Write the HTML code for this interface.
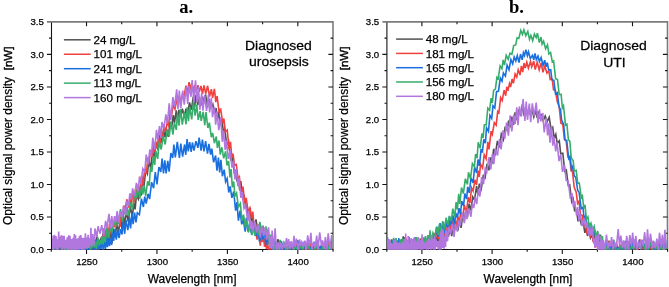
<!DOCTYPE html>
<html><head><meta charset="utf-8"><style>
html,body{margin:0;padding:0;background:#fff;}
svg{display:block;will-change:transform;}
text{font-family:"Liberation Sans",sans-serif;fill:#000;stroke:#000;stroke-width:0.25px;}
.tl{font-size:9.6px;}
.lg{font-size:11.6px;}
.an{font-size:13.3px;}
.at{font-size:11.9px;}
.ti{font-family:"Liberation Serif",serif;font-weight:bold;font-size:18.6px;fill:#000;stroke:none;}
</style></head><body>
<svg width="669" height="287" viewBox="0 0 669 287">
<rect width="669" height="287" fill="#fff"/>
<path d="M47.0,21.9H333.0V249.5" stroke="#7c7c7c" stroke-width="1.6" fill="none"/>
<path d="M51.5,22.5V249.5M46.9,249.5H333.5" stroke="#151515" stroke-width="1.1" fill="none"/>
<path d="M49.1,233.24H51.5M333.0,233.24H330.6M46.9,216.99H51.5M333.0,216.99H328.4M49.1,200.73H51.5M333.0,200.73H330.6M46.9,184.47H51.5M333.0,184.47H328.4M49.1,168.21H51.5M333.0,168.21H330.6M46.9,151.95H51.5M333.0,151.95H328.4M49.1,135.70H51.5M333.0,135.70H330.6M46.9,119.44H51.5M333.0,119.44H328.4M49.1,103.18H51.5M333.0,103.18H330.6M46.9,86.93H51.5M333.0,86.93H328.4M49.1,70.67H51.5M333.0,70.67H330.6M46.9,54.41H51.5M333.0,54.41H328.4M49.1,38.15H51.5M333.0,38.15H330.6M51.30,249.5V251.8M86.52,249.5V253.9M86.52,21.9V26.299999999999997M121.73,249.5V251.8M121.73,21.9V24.2M156.95,249.5V253.9M156.95,21.9V26.299999999999997M192.17,249.5V251.8M192.17,21.9V24.2M227.39,249.5V253.9M227.39,21.9V26.299999999999997M262.61,249.5V251.8M262.61,21.9V24.2M297.82,249.5V253.9M297.82,21.9V26.299999999999997M333.04,249.5V251.8" stroke="#151515" stroke-width="1.1" fill="none"/>
<clipPath id="clip0"><rect x="52.0" y="22.7" width="280.2" height="227.1"/></clipPath>
<g clip-path="url(#clip0)" fill="none" stroke-width="1.6" stroke-linejoin="miter">
<path d="M52.0,240.1 L52.8,248.6 L53.9,243.4 L54.9,249.7 L56.0,241.8 L57.2,250.3 L58.4,239.4 L59.6,250.3 L60.7,243.7 L61.8,250.2 L62.8,241.6 L63.8,250.3 L64.7,244.4 L65.5,250.3 L66.3,245.0 L67.5,249.0 L68.5,242.0 L69.7,249.0 L71.0,245.3 L72.1,250.3 L73.1,245.2 L74.3,250.3 L75.5,242.9 L76.8,250.0 L77.9,243.4 L78.8,248.0 L80.0,244.9 L81.1,250.3 L82.0,239.9 L83.1,250.3 L84.2,239.8 L85.3,250.3 L86.4,241.9 L87.3,250.3 L88.1,239.1 L89.2,250.3 L90.3,244.5 L91.6,248.1 L92.4,234.0 L93.2,247.7 L94.5,244.9 L95.6,250.0 L96.7,233.9 L97.5,246.8 L98.6,240.8 L99.7,246.3 L101.0,237.6 L102.0,245.3 L103.1,232.5 L104.2,242.6 L105.1,230.6 L106.1,240.5 L107.5,227.3 L109.2,240.8 L110.6,230.1 L111.9,243.5 L113.5,228.6 L115.4,237.4 L116.6,223.6 L118.6,231.8 L120.5,217.2 L122.0,228.9 L123.2,212.0 L124.4,226.0 L126.3,212.0 L128.3,221.8 L130.3,206.3 L132.3,216.7 L133.9,203.2 L135.1,209.4 L136.4,195.7 L138.4,199.2 L139.5,186.8 L141.2,195.7 L142.8,176.7 L144.0,186.0 L145.8,170.0 L147.4,173.8 L148.9,160.3 L150.7,168.4 L152.6,151.1 L154.1,159.1 L156.2,142.2 L158.1,150.4 L159.6,136.6 L161.7,141.4 L163.6,129.6 L165.0,137.4 L166.4,128.7 L168.3,136.8 L170.0,121.8 L171.5,128.3 L173.3,115.2 L174.5,122.8 L176.3,110.3 L177.5,121.2 L178.9,109.9 L180.4,116.2 L182.4,108.7 L184.3,117.0 L186.0,108.6 L187.5,115.1 L189.5,102.4 L191.4,109.7 L193.3,96.5 L194.7,107.0 L195.9,95.1 L197.8,105.2 L199.4,96.8 L200.8,105.5 L202.7,96.7 L203.8,103.4 L205.6,94.4 L207.4,107.5 L208.8,98.9 L210.7,107.7 L212.8,104.2 L214.7,113.3 L216.1,108.2 L217.3,120.3 L218.5,111.8 L220.3,123.1 L221.9,119.1 L223.3,131.3 L224.7,129.1 L226.8,144.9 L228.6,141.5 L230.6,159.5 L232.4,157.5 L234.4,173.9 L235.6,169.9 L236.9,181.5 L238.4,177.1 L239.7,190.5 L240.8,181.0 L242.9,198.6 L244.2,196.4 L245.8,208.2 L247.1,204.5 L248.5,218.3 L250.2,207.7 L251.5,223.3 L252.6,216.7 L254.3,227.7 L256.0,219.3 L258.0,232.7 L259.3,223.9 L261.1,233.4 L263.1,226.7 L264.6,237.1 L265.8,232.8 L266.6,243.6 L267.5,233.6 L268.4,244.1 L269.2,237.8 L270.4,247.9 L271.3,237.2 L272.5,248.9 L274.0,246.5 L275.8,250.3 L278.0,239.1 L279.4,249.4 L280.8,247.3 L282.1,250.3 L284.1,243.0 L285.6,250.3 L287.2,246.4 L289.1,250.3 L290.5,244.2 L292.5,248.6 L294.6,241.6 L296.0,250.0 L297.3,240.1 L299.2,250.3 L300.4,243.2 L302.0,250.3 L303.8,246.5 L305.2,250.3 L307.3,244.6 L309.0,250.3 L310.3,244.7 L311.7,249.0 L313.4,246.9 L314.8,250.3 L317.0,246.0 L319.0,250.3 L321.0,248.7 L322.6,249.1 L324.1,248.9 L326.1,250.3 L327.5,244.7 L329.4,250.3 L330.8,245.9 L332.8,250.3" stroke="#515151"/>
<path d="M52.0,241.0 L52.9,248.0 L53.8,243.5 L54.6,248.6 L55.5,241.8 L56.5,248.4 L57.3,243.2 L58.4,250.3 L59.5,239.1 L60.4,249.8 L61.3,235.9 L62.3,250.3 L63.4,241.6 L64.2,248.5 L65.3,241.2 L66.6,250.3 L67.8,240.3 L68.9,249.1 L69.8,239.3 L71.1,250.3 L72.2,243.0 L73.1,250.3 L74.4,239.7 L75.3,250.3 L76.2,241.3 L77.2,250.2 L78.2,242.5 L79.2,249.4 L80.1,242.9 L81.4,249.2 L82.6,239.0 L83.5,250.3 L84.5,238.4 L85.7,250.3 L86.6,238.9 L87.4,247.4 L88.5,240.4 L89.7,248.5 L90.9,244.2 L91.8,249.3 L92.8,241.8 L93.8,250.1 L94.8,239.0 L96.0,250.3 L97.1,240.9 L98.4,249.5 L99.6,240.5 L100.8,244.7 L102.0,236.1 L103.0,241.5 L104.1,228.1 L105.1,240.5 L106.4,227.6 L108.3,237.9 L109.5,223.7 L111.4,234.7 L112.8,220.7 L114.3,227.5 L115.5,219.1 L116.8,226.4 L118.5,216.1 L120.2,226.7 L121.4,211.8 L122.6,218.0 L123.8,205.7 L125.0,210.8 L126.8,199.3 L128.7,207.6 L130.1,197.6 L131.2,206.4 L132.9,191.2 L134.1,202.6 L135.8,187.6 L136.9,198.6 L138.3,184.1 L139.9,193.9 L141.6,175.6 L143.0,185.4 L144.6,169.3 L146.4,173.8 L147.8,157.6 L149.0,164.0 L150.5,151.0 L152.2,156.6 L153.4,144.6 L154.6,151.8 L155.8,141.5 L157.3,148.6 L158.4,136.7 L159.8,146.3 L161.1,133.0 L162.6,137.7 L164.1,125.2 L165.8,132.4 L167.2,121.9 L168.5,125.2 L170.3,112.2 L171.7,114.5 L173.4,104.4 L175.0,109.0 L176.7,99.5 L178.2,106.8 L179.3,95.7 L180.9,103.0 L182.4,94.1 L184.0,96.1 L186.0,85.7 L187.5,92.3 L189.1,82.1 L190.2,90.1 L191.8,82.9 L193.6,91.9 L194.7,84.9 L196.2,91.5 L197.9,85.2 L199.3,91.7 L201.0,86.0 L202.5,93.8 L204.0,85.5 L205.7,93.7 L207.6,85.8 L209.6,96.5 L211.4,89.2 L212.6,97.8 L214.4,88.9 L215.8,102.2 L217.1,96.0 L219.2,113.2 L220.6,108.4 L222.7,123.2 L223.9,118.5 L225.3,132.0 L227.2,130.0 L229.1,149.0 L230.5,141.8 L231.8,157.3 L233.0,153.5 L234.6,165.3 L236.3,164.4 L238.1,179.1 L239.4,176.9 L241.1,194.2 L243.0,186.7 L244.7,203.2 L246.2,197.8 L248.2,212.4 L249.9,208.2 L251.4,218.0 L252.8,211.6 L254.3,229.8 L255.5,223.7 L257.0,239.6 L258.3,230.7 L260.3,245.6 L261.4,234.3 L262.5,242.0 L263.7,238.0 L264.5,246.8 L265.5,238.3 L266.4,249.3 L267.6,244.2 L268.9,250.3 L269.8,247.1 L270.7,250.3 L272.0,248.0 L273.1,250.3 L274.9,247.4 L276.7,249.9 L278.4,242.4 L280.0,249.2 L281.9,248.6 L283.9,250.3 L285.2,248.2 L286.7,250.3 L288.2,247.4 L290.2,250.3 L292.3,247.0 L294.2,250.3 L296.2,242.8 L298.1,250.3 L300.1,245.8 L302.0,249.0 L303.3,249.3 L305.3,248.4 L307.4,245.0 L309.4,250.3 L310.7,243.4 L312.4,249.1 L313.8,244.7 L316.0,250.3 L317.6,243.2 L319.8,250.3 L321.7,245.2 L323.3,250.3 L325.0,243.5 L326.6,250.3 L328.4,240.6 L330.2,250.3 L332.3,247.7" stroke="#F14040"/>
<path d="M52.0,242.8 L53.1,248.6 L53.9,243.9 L55.2,249.0 L56.4,243.6 L57.3,250.3 L58.5,245.4 L59.5,250.3 L60.5,237.8 L61.6,250.3 L62.8,240.4 L63.7,250.3 L64.6,242.5 L65.8,249.5 L66.7,242.1 L67.6,249.6 L68.7,242.6 L69.6,248.3 L70.9,240.1 L72.0,250.3 L73.0,240.4 L74.2,250.3 L75.0,235.8 L76.3,250.3 L77.3,239.1 L78.4,250.3 L79.4,243.8 L80.6,250.3 L81.5,239.2 L82.4,250.3 L83.5,245.3 L84.4,250.3 L85.5,239.9 L86.6,250.3 L87.4,244.3 L88.6,250.3 L89.9,239.1 L90.9,250.3 L92.0,239.7 L93.3,250.3 L94.2,243.1 L95.2,250.3 L96.1,239.8 L97.1,250.2 L98.2,241.4 L99.0,250.3 L100.0,239.7 L101.0,248.8 L102.3,238.6 L103.2,250.3 L104.3,239.8 L105.4,249.0 L106.4,236.7 L107.4,247.2 L108.2,237.1 L109.4,246.1 L110.5,238.6 L111.6,245.0 L112.4,232.0 L113.6,240.9 L115.1,228.8 L116.3,239.7 L117.8,229.7 L119.0,238.0 L120.7,229.2 L122.0,234.5 L123.3,220.9 L124.7,233.8 L125.9,219.9 L127.8,230.2 L129.5,217.7 L130.6,228.5 L131.9,212.9 L133.1,224.2 L134.6,212.6 L136.0,222.3 L137.3,212.8 L139.4,214.7 L141.4,198.8 L143.4,207.0 L144.7,196.5 L146.2,203.6 L148.0,193.8 L149.6,199.1 L151.6,182.2 L153.6,188.2 L155.3,172.0 L157.0,184.5 L158.9,167.0 L160.8,171.9 L162.1,158.6 L163.5,173.4 L164.8,160.3 L166.1,173.3 L167.8,160.9 L169.1,171.7 L170.9,153.0 L172.7,157.9 L173.9,144.5 L175.3,157.5 L177.3,141.9 L179.4,158.0 L180.8,143.5 L182.6,156.6 L184.6,144.5 L185.8,154.8 L187.1,139.0 L188.2,151.3 L189.7,142.2 L191.2,152.0 L192.4,142.5 L194.0,150.6 L195.9,141.2 L197.9,147.8 L199.1,137.5 L201.1,150.7 L202.4,139.5 L204.0,151.5 L205.6,141.0 L207.5,153.6 L208.9,143.9 L210.6,154.5 L211.8,148.6 L213.6,162.3 L215.6,155.6 L217.0,170.7 L218.4,157.5 L219.7,172.5 L220.9,159.8 L222.4,176.2 L224.2,169.6 L225.6,181.8 L227.1,178.5 L228.8,192.5 L230.1,186.3 L231.9,197.8 L233.7,191.5 L235.6,210.6 L236.9,202.1 L238.4,220.6 L240.1,210.6 L241.7,224.3 L243.3,219.9 L245.2,231.7 L246.3,217.7 L247.9,231.5 L249.6,223.7 L251.6,234.4 L253.7,226.8 L255.7,236.0 L257.7,229.0 L259.6,241.6 L261.6,229.3 L262.8,239.3 L264.6,231.9 L265.8,245.3 L266.7,231.5 L267.9,242.9 L269.1,235.5 L270.1,243.6 L271.4,235.2 L272.7,250.1 L274.7,240.2 L276.7,250.3 L278.6,248.9 L280.2,250.3 L281.4,241.1 L283.4,250.3 L284.8,248.6 L287.0,250.3 L288.3,245.9 L290.4,250.3 L291.7,246.5 L293.3,249.5 L294.8,245.3 L296.8,250.3 L298.2,240.8 L300.2,248.4 L302.2,242.4 L303.5,250.3 L304.9,241.4 L306.4,250.3 L308.6,245.6 L309.9,249.4 L311.8,246.3 L313.1,249.5 L314.4,241.8 L316.1,248.6 L317.6,240.3 L319.4,250.3 L321.3,245.5 L322.9,250.3 L324.7,245.1 L326.2,250.3 L328.3,246.7 L330.5,250.3 L331.7,239.3" stroke="#1A6FDF"/>
<path d="M52.0,238.7 L53.1,250.3 L54.3,241.1 L55.3,250.3 L56.5,240.7 L57.5,250.3 L58.8,237.5 L59.7,248.2 L60.7,239.9 L61.7,250.3 L62.6,241.6 L63.7,249.7 L64.8,244.2 L65.9,250.3 L66.8,241.6 L67.7,250.3 L69.0,240.7 L70.1,248.1 L71.1,239.5 L72.1,248.8 L72.9,244.1 L73.9,250.3 L75.0,242.4 L76.2,249.3 L77.3,240.4 L78.4,249.0 L79.2,240.6 L80.4,248.0 L81.5,243.4 L82.5,249.7 L83.7,240.0 L84.5,248.2 L85.6,242.7 L86.6,248.9 L87.4,239.2 L88.4,247.3 L89.3,242.9 L90.5,250.3 L91.4,242.1 L92.6,247.3 L93.7,239.3 L94.7,247.6 L95.9,241.4 L96.7,248.7 L97.9,237.3 L99.1,245.5 L100.1,241.0 L101.2,242.8 L102.1,236.3 L103.1,244.3 L104.2,236.5 L105.2,242.2 L107.2,227.1 L108.8,237.9 L110.2,226.3 L112.0,232.3 L113.9,221.1 L115.7,226.6 L116.9,214.4 L118.8,224.2 L120.5,209.1 L122.5,221.5 L124.1,209.2 L125.9,215.4 L127.0,206.9 L128.7,215.7 L130.5,202.6 L132.5,208.8 L134.6,193.2 L136.2,198.1 L137.7,187.9 L139.8,198.7 L141.5,186.6 L142.8,194.4 L144.2,185.6 L145.7,195.8 L147.6,181.3 L149.2,185.7 L150.5,167.3 L151.8,171.9 L153.5,155.8 L154.7,164.9 L155.9,151.0 L157.7,158.9 L159.2,141.6 L161.2,149.5 L163.2,136.3 L165.2,144.5 L167.2,129.5 L169.2,136.6 L171.0,121.7 L172.9,134.6 L174.4,122.6 L176.3,129.9 L177.5,113.6 L179.0,125.7 L180.5,109.0 L182.3,124.6 L184.3,112.1 L186.0,124.3 L187.2,107.2 L188.5,121.3 L189.7,106.6 L191.7,119.3 L193.5,101.6 L195.1,115.6 L196.8,104.5 L198.2,120.0 L200.1,111.1 L201.2,120.8 L203.2,111.8 L204.8,125.3 L206.0,112.0 L207.9,128.0 L209.4,122.7 L211.3,137.2 L212.7,133.1 L214.4,143.2 L216.3,136.5 L217.4,147.8 L219.0,140.5 L220.2,154.5 L221.9,147.3 L223.7,158.4 L225.6,151.3 L227.0,165.4 L228.6,161.0 L230.0,177.5 L231.1,169.1 L232.3,187.4 L233.7,181.5 L235.0,196.1 L236.6,193.1 L238.4,207.1 L240.4,203.5 L242.0,220.8 L243.6,214.7 L245.3,227.6 L247.1,220.2 L248.5,232.5 L250.2,224.1 L252.0,235.0 L253.2,227.5 L255.0,235.9 L256.8,226.1 L258.4,235.0 L259.9,221.8 L261.4,231.6 L263.0,225.5 L264.3,234.3 L265.9,226.3 L267.4,239.4 L268.2,229.4 L269.4,244.9 L270.5,234.6 L271.6,246.2 L272.8,243.2 L274.5,250.3 L276.6,243.7 L278.0,250.3 L280.2,240.0 L282.1,249.3 L284.2,241.9 L285.7,249.5 L287.5,247.4 L289.3,248.4 L291.5,245.7 L293.6,250.3 L295.1,247.4 L296.7,248.5 L298.1,247.4 L299.6,248.9 L301.1,245.7 L302.8,249.2 L304.3,242.0 L306.3,250.3 L308.4,246.3 L310.1,250.3 L312.2,248.6 L314.4,250.3 L316.3,242.6 L317.5,249.9 L318.9,248.6 L321.0,250.3 L323.1,247.1 L325.0,249.3 L326.6,244.7 L328.7,250.3 L329.9,241.4 L332.0,250.3" stroke="#37AD6B"/>
<path d="M52.0,239.1 L52.6,249.8 L53.2,235.6 L53.7,250.3 L54.5,234.8 L55.2,247.4 L56.0,236.0 L56.8,250.3 L57.4,239.6 L58.0,250.3 L58.7,231.6 L59.4,247.3 L60.1,236.8 L60.7,247.4 L61.5,235.3 L62.1,250.2 L62.7,235.9 L63.4,248.5 L64.1,235.7 L64.9,250.3 L65.7,239.9 L66.4,248.1 L67.2,237.2 L67.9,250.1 L68.6,235.4 L69.3,250.3 L70.0,235.7 L70.8,250.3 L71.6,239.0 L72.4,250.3 L73.2,237.8 L73.8,249.5 L74.3,234.1 L74.9,250.3 L75.6,235.2 L76.1,250.3 L76.8,239.2 L77.5,250.1 L78.2,238.0 L79.0,249.7 L79.5,235.7 L80.1,249.3 L80.8,235.1 L81.7,250.3 L82.3,237.7 L83.2,249.6 L84.0,237.7 L84.6,249.6 L85.4,233.3 L86.2,247.5 L86.7,237.6 L87.2,248.8 L88.1,234.8 L88.9,247.9 L89.5,238.1 L90.3,245.3 L90.9,227.8 L91.6,246.7 L92.3,234.3 L93.8,245.5 L95.0,228.5 L96.8,237.0 L98.0,226.3 L100.1,233.7 L101.7,225.1 L103.7,236.2 L105.6,220.9 L106.9,228.0 L109.0,213.8 L110.4,228.7 L111.8,216.1 L112.9,226.6 L114.6,216.1 L115.9,222.1 L117.1,211.2 L118.8,222.9 L119.9,211.2 L121.9,217.3 L123.6,205.5 L125.6,215.1 L126.8,200.9 L128.5,205.7 L129.9,193.3 L131.4,199.5 L132.6,188.4 L134.6,195.9 L136.4,182.9 L138.2,191.3 L139.5,176.5 L140.9,184.1 L142.8,168.6 L144.8,171.8 L146.2,154.6 L148.0,164.5 L149.9,149.4 L151.4,156.4 L152.8,137.7 L154.7,149.7 L156.5,129.8 L157.8,140.1 L159.5,126.2 L160.8,138.0 L162.0,122.0 L163.8,128.7 L165.9,114.4 L167.4,123.5 L169.2,103.3 L170.8,120.1 L172.9,97.1 L174.6,106.8 L176.7,89.4 L178.0,109.3 L179.3,90.6 L180.8,108.2 L182.8,90.7 L184.2,104.7 L186.3,86.9 L187.7,104.0 L188.9,85.9 L191.0,96.8 L192.2,80.1 L193.9,102.8 L195.5,80.2 L197.1,102.2 L198.5,86.9 L199.8,109.8 L201.7,93.2 L202.9,110.7 L204.7,95.3 L206.5,111.0 L208.5,94.6 L209.6,112.5 L211.3,97.9 L212.5,117.1 L214.4,106.8 L215.7,124.8 L216.9,111.4 L218.8,130.2 L220.6,117.0 L222.3,141.8 L223.4,130.5 L225.2,150.0 L226.5,140.6 L228.2,158.9 L230.2,150.2 L232.0,167.6 L233.6,160.9 L234.9,179.5 L236.2,169.1 L237.9,186.1 L239.1,177.6 L240.9,197.9 L242.1,191.9 L244.0,208.5 L245.7,205.1 L247.7,221.7 L248.8,211.2 L250.4,229.0 L251.6,220.8 L253.3,231.7 L254.8,221.4 L256.7,230.7 L258.7,225.2 L260.3,237.6 L261.8,226.2 L263.6,236.2 L265.3,227.1 L266.6,239.6 L268.5,227.3 L269.9,247.9 L270.6,236.2 L271.3,248.7 L272.1,230.5 L273.4,250.3 L275.1,228.3 L276.5,250.1 L278.1,242.5 L279.6,250.3 L280.6,242.7 L282.2,248.7 L283.7,243.0 L285.0,248.0 L286.5,238.0 L287.6,249.7 L288.6,239.1 L290.0,248.7 L291.2,241.1 L292.8,248.6 L294.0,235.9 L295.0,247.0 L296.4,238.7 L298.1,250.3 L299.6,239.4 L300.6,245.9 L301.7,242.1 L303.3,246.4 L304.6,240.6 L306.2,250.3 L307.7,235.3 L309.3,246.5 L310.9,232.9 L312.0,249.2 L313.7,241.9 L315.2,248.2 L316.7,235.6 L317.9,250.3 L319.7,232.3 L321.5,246.0 L322.6,240.4 L324.0,249.0 L325.4,237.2 L326.8,249.9 L328.2,233.3 L330.0,249.1 L331.7,235.2" stroke="#B177DE"/>
</g>
<text x="43.8" y="252.9" class="tl" text-anchor="end">0.0</text>
<text x="43.8" y="220.4" class="tl" text-anchor="end">0.5</text>
<text x="43.8" y="187.9" class="tl" text-anchor="end">1.0</text>
<text x="43.8" y="155.4" class="tl" text-anchor="end">1.5</text>
<text x="43.8" y="122.8" class="tl" text-anchor="end">2.0</text>
<text x="43.8" y="90.3" class="tl" text-anchor="end">2.5</text>
<text x="43.8" y="57.8" class="tl" text-anchor="end">3.0</text>
<text x="43.8" y="25.3" class="tl" text-anchor="end">3.5</text>
<text x="86.8" y="265.2" class="tl" text-anchor="middle">1250</text>
<text x="157.3" y="265.2" class="tl" text-anchor="middle">1300</text>
<text x="227.7" y="265.2" class="tl" text-anchor="middle">1350</text>
<text x="298.1" y="265.2" class="tl" text-anchor="middle">1400</text>
<path d="M382.4,21.9H667.5V249.5" stroke="#7c7c7c" stroke-width="1.6" fill="none"/>
<path d="M386.9,22.5V249.5M382.29999999999995,249.5H668.0" stroke="#151515" stroke-width="1.1" fill="none"/>
<path d="M384.5,233.24H386.9M667.5,233.24H665.1M382.29999999999995,216.99H386.9M667.5,216.99H662.9M384.5,200.73H386.9M667.5,200.73H665.1M382.29999999999995,184.47H386.9M667.5,184.47H662.9M384.5,168.21H386.9M667.5,168.21H665.1M382.29999999999995,151.95H386.9M667.5,151.95H662.9M384.5,135.70H386.9M667.5,135.70H665.1M382.29999999999995,119.44H386.9M667.5,119.44H662.9M384.5,103.18H386.9M667.5,103.18H665.1M382.29999999999995,86.93H386.9M667.5,86.93H662.9M384.5,70.67H386.9M667.5,70.67H665.1M382.29999999999995,54.41H386.9M667.5,54.41H662.9M384.5,38.15H386.9M667.5,38.15H665.1M386.80,249.5V251.8M421.90,249.5V253.9M421.90,21.9V26.299999999999997M457.00,249.5V251.8M457.00,21.9V24.2M492.10,249.5V253.9M492.10,21.9V26.299999999999997M527.20,249.5V251.8M527.20,21.9V24.2M562.30,249.5V253.9M562.30,21.9V26.299999999999997M597.40,249.5V251.8M597.40,21.9V24.2M632.50,249.5V253.9M632.50,21.9V26.299999999999997M667.60,249.5V251.8" stroke="#151515" stroke-width="1.1" fill="none"/>
<clipPath id="clip1"><rect x="387.4" y="22.7" width="279.3" height="227.1"/></clipPath>
<g clip-path="url(#clip1)" fill="none" stroke-width="1.6" stroke-linejoin="miter">
<path d="M387.4,244.2 L388.2,248.9 L389.1,244.4 L389.9,250.3 L390.9,242.0 L392.1,250.3 L393.1,243.7 L394.3,249.4 L395.2,238.7 L396.1,249.1 L397.3,240.6 L398.2,249.2 L399.2,241.9 L400.3,248.8 L401.4,239.3 L402.3,247.4 L403.2,236.2 L404.0,250.3 L405.0,237.1 L405.9,247.4 L407.1,242.9 L408.1,250.3 L409.1,241.9 L410.0,248.3 L411.3,244.0 L412.4,248.4 L413.7,241.2 L415.0,250.2 L416.2,240.6 L417.2,247.7 L418.1,241.5 L419.4,248.9 L420.6,238.6 L421.7,249.7 L422.6,240.2 L423.8,248.3 L424.7,242.9 L426.0,249.7 L427.2,239.5 L428.4,249.7 L429.3,237.3 L430.3,247.5 L431.3,235.5 L432.4,246.9 L433.5,241.1 L434.4,245.7 L435.5,236.7 L436.4,245.5 L437.5,235.3 L438.6,243.0 L439.7,235.1 L440.8,242.0 L441.8,233.8 L443.1,242.6 L444.2,232.3 L445.2,242.4 L447.3,230.5 L448.5,236.7 L450.3,226.7 L451.7,236.2 L453.3,224.0 L454.7,230.0 L456.7,221.8 L457.9,230.6 L459.6,219.6 L461.1,227.8 L462.8,214.4 L464.4,220.6 L465.5,211.5 L467.4,217.1 L469.1,203.7 L470.8,210.5 L472.7,196.9 L474.5,200.0 L476.6,186.0 L477.9,195.2 L479.3,183.7 L481.3,188.9 L483.3,174.8 L484.9,179.1 L487.0,163.9 L488.9,170.3 L490.4,157.3 L491.8,164.1 L493.7,148.8 L495.5,153.4 L497.4,140.9 L499.4,147.4 L501.3,134.1 L503.4,139.5 L505.0,127.9 L507.1,130.4 L508.6,120.5 L510.0,127.3 L511.8,116.6 L513.6,124.9 L515.0,112.4 L517.0,120.1 L518.9,109.4 L520.6,115.8 L522.4,104.5 L523.9,115.7 L525.5,107.5 L527.1,113.8 L529.2,107.9 L530.5,115.1 L532.0,109.1 L533.8,117.0 L535.9,110.6 L537.0,117.5 L538.2,111.4 L540.2,118.8 L541.3,113.9 L543.2,120.8 L545.2,115.9 L547.2,121.5 L549.2,117.3 L551.1,129.5 L552.7,127.3 L554.2,138.5 L555.8,134.3 L557.2,143.2 L559.3,140.9 L560.7,153.8 L562.8,153.2 L564.8,171.3 L566.3,170.0 L568.3,185.6 L569.7,184.9 L571.7,201.6 L573.1,198.7 L574.6,210.7 L576.7,211.0 L578.0,221.3 L579.5,216.9 L581.5,225.3 L582.8,220.6 L584.9,232.9 L586.3,227.7 L587.5,236.0 L589.3,230.1 L590.6,237.8 L592.2,234.3 L593.4,241.6 L594.6,232.4 L595.5,243.0 L596.4,233.9 L597.3,245.2 L598.5,233.7 L599.3,246.0 L600.5,234.6 L601.7,249.9 L602.8,242.2 L603.9,249.2 L605.7,247.4 L607.1,249.0 L608.6,243.1 L610.6,250.3 L612.3,244.6 L614.1,250.3 L615.7,245.3 L617.1,249.9 L618.6,248.9 L620.6,250.3 L622.2,245.1 L624.2,248.3 L625.7,241.0 L627.3,250.3 L629.0,241.5 L630.5,250.3 L632.1,239.9 L634.2,250.3 L635.6,241.5 L637.1,250.3 L639.1,242.8 L640.7,249.4 L642.4,240.7 L644.1,250.0 L645.6,243.7 L647.2,248.5 L648.9,243.1 L650.1,249.3 L652.3,241.6 L654.0,250.0 L655.4,247.1 L657.1,250.3 L658.6,240.9 L659.9,250.3 L661.6,239.2 L663.2,250.3 L665.0,241.0 L666.7,249.0" stroke="#515151"/>
<path d="M387.4,240.3 L388.4,250.3 L389.5,243.6 L390.6,250.3 L391.6,239.3 L392.6,250.3 L393.5,242.1 L394.6,250.3 L395.8,244.2 L397.0,249.8 L398.2,241.7 L399.2,250.3 L400.4,244.6 L401.5,250.3 L402.3,242.1 L403.2,250.3 L404.1,241.2 L405.0,250.0 L406.0,238.6 L407.2,249.4 L408.3,242.0 L409.4,249.8 L410.3,240.5 L411.4,248.7 L412.2,243.8 L413.2,247.5 L414.3,238.6 L415.3,250.3 L416.6,238.5 L417.6,246.8 L418.7,242.5 L420.0,248.8 L421.1,239.4 L422.0,247.5 L423.1,237.4 L424.2,245.6 L425.2,239.2 L426.4,246.6 L427.6,237.9 L428.5,244.5 L429.5,235.0 L430.5,243.4 L431.6,236.1 L432.8,241.7 L433.9,232.9 L435.1,240.4 L437.1,229.0 L438.3,239.2 L439.6,229.5 L440.7,237.5 L442.4,227.5 L443.6,237.4 L445.4,223.8 L447.0,236.0 L449.0,221.0 L450.5,230.0 L451.8,218.8 L453.0,229.6 L454.9,220.2 L456.1,227.3 L457.9,216.4 L459.1,223.8 L460.8,211.9 L462.6,217.5 L464.3,204.8 L466.3,212.8 L468.3,197.2 L469.9,202.9 L471.6,187.9 L473.1,191.1 L475.0,179.8 L476.5,185.0 L478.2,170.7 L479.3,176.9 L480.6,164.1 L482.6,168.0 L484.2,154.7 L486.1,158.8 L487.9,141.9 L489.0,149.4 L491.1,131.2 L492.3,134.4 L494.3,122.7 L496.2,125.1 L497.7,111.3 L498.9,112.7 L500.6,97.7 L502.2,100.7 L504.1,90.2 L505.7,95.7 L506.8,86.8 L507.9,90.9 L509.5,83.6 L510.6,87.0 L512.1,78.9 L513.4,83.3 L515.1,73.9 L516.7,77.1 L518.2,69.8 L520.0,75.1 L521.4,65.8 L522.7,72.2 L524.0,63.0 L525.3,68.1 L526.8,62.2 L528.4,68.2 L530.5,61.6 L531.7,66.8 L533.7,61.0 L535.2,69.6 L537.2,62.3 L539.2,69.8 L541.0,63.0 L543.0,72.3 L544.8,66.0 L546.9,73.0 L548.8,70.7 L550.2,79.5 L552.2,79.2 L553.5,89.7 L555.3,90.0 L557.3,101.8 L559.1,106.2 L560.9,123.2 L562.8,124.4 L564.4,139.3 L566.2,141.1 L567.9,156.8 L569.8,158.8 L571.1,170.6 L572.4,170.6 L574.2,187.3 L576.2,192.1 L577.6,203.4 L579.0,201.2 L580.4,214.5 L582.4,215.6 L583.8,226.8 L585.7,224.5 L586.9,232.5 L588.8,229.4 L590.2,236.5 L592.2,231.5 L593.1,241.7 L594.3,238.5 L595.4,247.6 L596.7,238.5 L598.0,250.0 L599.2,238.8 L600.3,245.7 L601.5,241.9 L602.3,250.0 L603.4,245.5 L604.6,249.8 L605.9,246.4 L607.9,250.3 L609.4,240.6 L610.8,248.3 L612.3,247.1 L614.4,250.3 L616.5,243.7 L618.5,250.3 L619.9,244.9 L621.3,250.3 L622.8,242.9 L624.3,250.3 L626.2,249.3 L628.3,250.3 L629.7,244.9 L631.2,250.3 L633.1,244.4 L634.8,250.2 L636.3,245.2 L637.9,250.3 L639.7,239.2 L641.5,250.3 L642.9,244.3 L644.3,250.1 L646.2,243.0 L647.9,250.3 L649.5,246.9 L651.2,248.9 L652.7,242.1 L654.3,250.3 L656.5,246.7 L658.5,250.3 L660.5,245.7 L662.6,250.3 L664.6,240.9 L666.7,249.6" stroke="#F14040"/>
<path d="M387.4,237.3 L388.5,250.3 L389.5,241.2 L390.6,248.2 L391.9,239.6 L392.8,247.9 L394.1,239.3 L395.3,249.5 L396.5,242.4 L397.7,250.3 L398.9,238.2 L399.7,249.0 L400.9,241.7 L402.2,249.7 L403.4,239.3 L404.6,250.3 L405.8,243.3 L406.9,250.3 L408.1,243.6 L409.2,248.2 L410.1,240.7 L411.3,250.1 L412.4,241.5 L413.5,250.3 L414.5,237.2 L415.3,248.7 L416.2,237.0 L417.4,250.2 L418.3,240.4 L419.2,246.1 L420.1,240.4 L421.3,247.5 L422.4,240.0 L423.5,247.4 L424.7,237.9 L425.6,245.5 L426.8,240.0 L427.9,243.9 L429.1,236.5 L430.3,245.4 L431.1,236.9 L432.4,243.6 L433.5,234.6 L434.8,240.2 L436.8,226.5 L438.0,236.6 L440.0,223.2 L441.6,232.5 L443.4,222.1 L444.6,233.4 L446.0,223.0 L447.8,228.0 L449.4,216.5 L451.1,225.3 L453.0,215.4 L454.4,225.0 L455.8,213.1 L457.3,217.9 L459.0,208.2 L460.5,214.4 L461.7,201.0 L463.6,205.9 L464.8,193.6 L466.6,199.1 L467.7,186.7 L469.3,193.0 L471.0,177.8 L473.1,182.9 L474.6,167.0 L476.6,172.9 L478.1,159.4 L479.4,165.8 L481.1,149.1 L482.3,152.6 L483.8,139.3 L485.4,143.3 L486.5,127.6 L488.5,131.5 L489.9,115.3 L491.7,118.4 L493.0,105.8 L494.8,108.0 L496.5,91.7 L498.5,91.1 L500.3,78.1 L502.0,81.2 L503.4,73.0 L505.4,76.1 L507.1,65.1 L509.0,69.7 L510.9,59.6 L512.7,63.9 L514.2,57.0 L515.8,61.0 L517.3,55.7 L519.0,62.5 L520.5,54.1 L522.2,59.8 L523.4,52.7 L524.5,55.5 L525.9,49.8 L527.4,55.6 L528.5,51.7 L530.3,58.6 L532.4,55.3 L533.7,59.8 L535.0,53.4 L536.3,59.6 L538.0,56.1 L539.4,61.5 L541.1,57.5 L543.1,65.5 L544.7,60.2 L546.1,66.7 L547.3,62.7 L548.7,70.1 L550.7,69.7 L551.9,79.7 L553.9,80.4 L555.5,93.9 L557.3,92.6 L559.0,106.8 L560.5,109.6 L561.6,120.1 L563.6,124.3 L565.1,139.9 L566.7,140.4 L568.7,158.5 L570.1,156.4 L571.5,169.2 L572.9,166.1 L574.1,175.6 L575.8,177.6 L577.7,190.5 L579.1,192.3 L581.2,208.7 L583.0,207.3 L584.1,218.9 L585.4,216.1 L587.3,227.8 L588.8,223.3 L590.0,230.6 L591.7,226.3 L593.4,235.9 L594.7,229.8 L596.0,237.2 L597.3,236.8 L598.6,242.5 L599.7,236.2 L600.8,245.2 L601.9,239.4 L603.0,247.7 L603.9,244.7 L605.1,250.3 L606.8,240.3 L608.6,250.3 L610.1,246.7 L612.0,250.3 L613.8,241.9 L615.4,250.3 L617.5,247.1 L619.6,250.3 L621.4,246.0 L623.6,250.3 L625.4,245.2 L626.8,250.3 L628.9,247.4 L630.2,249.2 L631.8,241.1 L633.4,250.3 L635.3,240.1 L637.3,249.3 L639.3,240.4 L641.1,250.3 L643.1,239.9 L644.7,248.4 L646.4,248.1 L648.3,250.3 L650.1,241.6 L652.2,250.3 L653.5,248.6 L654.7,250.3 L656.3,246.7 L658.0,250.3 L659.5,249.4 L661.1,248.3 L662.3,241.8 L663.9,250.3 L666.1,240.3" stroke="#1A6FDF"/>
<path d="M387.4,238.2 L388.3,250.3 L389.6,239.5 L390.7,248.2 L391.6,244.2 L392.6,250.3 L393.6,237.9 L394.7,250.3 L396.0,238.1 L397.2,250.3 L398.1,243.3 L399.1,247.7 L400.3,239.7 L401.4,250.3 L402.5,238.2 L403.7,250.3 L404.8,239.3 L406.1,250.1 L407.3,240.0 L408.3,247.9 L409.2,236.9 L410.4,249.8 L411.6,242.8 L412.8,249.8 L414.1,239.9 L415.3,247.5 L416.6,237.1 L417.4,248.6 L418.7,238.4 L419.9,247.1 L421.0,240.0 L421.9,245.5 L423.1,238.2 L424.3,244.5 L425.4,236.0 L426.6,246.8 L427.8,235.1 L429.1,244.1 L430.0,230.2 L431.0,243.0 L433.0,233.0 L434.8,237.8 L436.5,227.0 L438.2,234.8 L439.4,224.0 L441.0,231.4 L442.7,221.2 L444.6,229.3 L446.1,217.8 L447.9,225.1 L449.4,215.9 L451.3,221.3 L452.8,208.6 L454.8,216.6 L456.1,202.1 L457.4,209.7 L458.7,193.9 L459.8,204.0 L461.5,187.6 L463.3,193.6 L465.4,178.7 L467.4,184.5 L468.5,172.2 L470.5,178.8 L472.4,163.5 L474.4,166.6 L475.6,154.0 L477.1,158.3 L478.2,142.3 L480.2,148.3 L481.9,133.5 L483.1,138.0 L484.3,125.0 L486.2,124.5 L487.8,108.2 L489.6,110.2 L491.1,98.1 L492.3,103.1 L493.6,90.3 L495.4,89.1 L496.9,77.3 L498.2,78.7 L500.1,65.9 L501.9,68.7 L503.2,59.9 L504.5,65.1 L506.2,55.3 L508.2,59.3 L510.0,53.2 L511.9,54.2 L513.7,45.6 L515.7,44.9 L517.1,37.8 L518.8,38.4 L520.8,30.4 L522.4,34.5 L523.9,29.9 L525.8,35.7 L527.8,31.4 L529.5,39.3 L530.9,35.5 L532.7,40.8 L534.4,34.1 L536.2,37.6 L537.4,33.1 L539.3,42.5 L541.0,37.1 L542.1,44.2 L543.6,41.2 L545.6,48.7 L547.5,44.8 L548.9,54.0 L550.6,52.5 L552.3,61.9 L553.6,60.9 L555.6,78.6 L557.5,79.5 L559.2,94.5 L561.1,94.3 L562.4,107.9 L563.5,105.7 L565.5,125.2 L566.9,124.2 L568.4,139.8 L569.8,141.1 L571.3,158.0 L573.2,160.8 L574.3,171.0 L576.2,170.4 L577.7,183.1 L579.3,183.0 L581.3,197.8 L582.4,196.0 L583.8,208.5 L585.0,204.8 L586.4,219.1 L587.9,216.9 L589.2,226.4 L590.9,223.2 L592.3,231.4 L594.2,226.5 L596.0,237.0 L597.6,230.9 L599.1,239.7 L600.3,235.5 L601.1,245.2 L602.4,236.1 L603.5,250.3 L605.6,246.7 L606.9,250.2 L608.2,243.8 L609.4,250.3 L610.9,249.4 L612.5,250.3 L613.7,239.6 L615.7,250.3 L617.5,249.1 L619.2,249.2 L621.2,245.7 L622.7,249.1 L624.8,241.5 L626.2,250.3 L628.0,244.2 L629.5,250.3 L631.7,246.2 L633.7,248.7 L635.3,239.2 L637.1,249.4 L638.7,241.0 L640.9,248.3 L643.0,242.8 L645.1,249.2 L646.7,241.5 L648.6,249.9 L650.2,240.9 L652.3,250.3 L654.4,241.9 L656.1,248.6 L657.6,246.1 L659.5,250.3 L660.9,245.3 L662.3,250.3 L663.6,248.6 L665.7,250.3 L667.5,243.0" stroke="#37AD6B"/>
<path d="M387.4,239.9 L388.1,250.3 L388.6,239.1 L389.2,250.3 L389.8,239.7 L390.6,250.3 L391.2,242.8 L392.0,250.3 L392.5,243.8 L393.3,250.3 L394.1,239.9 L394.7,250.3 L395.2,239.3 L395.8,250.3 L396.6,241.7 L397.3,250.3 L397.9,242.4 L398.4,250.3 L399.2,243.0 L400.0,250.3 L400.7,243.9 L401.3,250.3 L401.9,241.6 L402.6,250.3 L403.1,243.0 L403.9,250.3 L404.4,238.9 L405.2,250.3 L405.7,233.5 L406.3,250.3 L406.9,240.7 L407.6,250.3 L408.2,236.1 L409.0,250.3 L409.6,243.9 L410.3,250.3 L411.1,238.1 L411.6,250.3 L412.2,239.1 L412.8,250.3 L413.4,241.1 L414.1,250.1 L414.8,237.7 L415.3,250.1 L416.0,240.9 L416.6,250.3 L417.1,242.8 L417.7,250.3 L418.4,237.0 L419.1,249.5 L419.6,243.6 L420.2,250.3 L420.7,240.0 L421.4,250.3 L422.0,234.4 L422.7,250.3 L423.4,241.1 L424.1,249.3 L424.8,243.0 L425.4,249.3 L426.2,241.9 L426.7,250.3 L427.5,239.8 L428.2,250.3 L428.9,238.6 L429.5,248.1 L430.0,240.3 L430.8,250.3 L431.5,234.7 L432.4,249.5 L433.0,238.8 L433.8,249.9 L434.5,236.2 L435.3,250.3 L436.1,239.2 L436.7,247.0 L437.5,241.0 L438.2,249.6 L439.0,240.7 L439.6,250.3 L440.4,231.9 L441.2,249.7 L441.8,228.4 L442.5,247.9 L443.3,230.4 L444.1,248.6 L444.8,236.2 L445.6,246.9 L446.1,229.8 L447.5,241.3 L448.6,227.0 L450.6,234.0 L452.3,223.9 L454.1,236.9 L455.4,224.0 L457.3,231.6 L458.7,220.3 L460.2,225.8 L462.2,213.3 L464.3,223.2 L465.7,209.7 L467.0,219.2 L468.9,208.5 L470.9,216.7 L472.3,203.7 L473.7,208.1 L475.2,196.8 L476.7,204.2 L478.4,188.8 L479.9,196.5 L481.6,177.1 L483.5,184.1 L485.2,168.6 L486.8,171.9 L488.9,157.4 L490.8,169.4 L492.3,154.1 L493.8,164.1 L495.4,148.8 L497.5,155.4 L499.5,139.0 L501.1,149.5 L503.1,130.3 L504.7,138.9 L506.6,122.7 L508.4,135.7 L510.2,115.3 L511.8,131.5 L513.8,114.6 L515.2,123.8 L516.8,107.4 L518.0,125.3 L519.4,106.5 L521.3,116.6 L523.1,99.1 L524.9,120.9 L526.2,101.6 L527.5,119.8 L529.3,103.5 L530.7,122.2 L532.3,103.4 L534.2,115.9 L536.2,102.6 L538.0,123.2 L539.5,109.3 L540.8,121.4 L542.8,113.0 L544.2,132.5 L546.3,118.1 L547.6,135.4 L548.7,123.4 L550.0,142.7 L551.3,126.4 L552.8,145.6 L553.9,136.5 L555.7,151.5 L557.0,142.0 L559.0,161.1 L560.7,154.4 L562.5,171.8 L564.5,165.2 L566.2,180.5 L568.2,181.2 L570.2,197.2 L572.1,194.7 L573.4,207.2 L574.7,201.0 L576.6,215.6 L577.7,207.1 L579.1,221.5 L580.3,213.7 L582.3,226.0 L584.0,218.0 L585.6,227.7 L587.0,221.9 L588.6,235.5 L589.8,227.7 L591.0,235.5 L592.4,227.2 L593.7,243.7 L594.4,238.3 L594.9,247.6 L595.7,235.4 L596.5,246.6 L597.1,236.1 L597.6,250.3 L598.3,233.8 L598.9,250.3 L599.6,241.6 L600.3,250.3 L601.1,236.6 L601.7,250.3 L602.3,240.2 L602.8,250.3 L603.4,240.0 L604.8,250.3 L606.5,234.5 L607.9,248.4 L609.3,242.3 L610.4,246.6 L611.6,237.0 L613.0,249.6 L614.8,243.0 L616.4,247.1 L618.2,229.0 L619.5,245.8 L620.8,235.5 L622.6,247.6 L623.7,240.4 L625.5,250.2 L626.7,235.9 L628.3,249.9 L629.8,235.0 L631.4,245.9 L632.7,232.7 L634.0,247.7 L635.9,236.0 L636.9,249.7 L638.5,242.8 L640.1,246.9 L641.5,239.7 L643.1,245.8 L644.7,232.2 L646.4,250.3 L647.5,229.2 L648.9,247.8 L650.5,233.7 L652.4,248.4 L653.4,240.6 L655.2,248.1 L656.9,238.6 L658.2,250.3 L659.5,232.7 L661.1,247.1 L662.4,234.7 L663.7,250.3 L664.9,229.9 L666.3,248.0" stroke="#B177DE"/>
</g>
<text x="379.2" y="252.9" class="tl" text-anchor="end">0.0</text>
<text x="379.2" y="220.4" class="tl" text-anchor="end">0.5</text>
<text x="379.2" y="187.9" class="tl" text-anchor="end">1.0</text>
<text x="379.2" y="155.4" class="tl" text-anchor="end">1.5</text>
<text x="379.2" y="122.8" class="tl" text-anchor="end">2.0</text>
<text x="379.2" y="90.3" class="tl" text-anchor="end">2.5</text>
<text x="379.2" y="57.8" class="tl" text-anchor="end">3.0</text>
<text x="379.2" y="25.3" class="tl" text-anchor="end">3.5</text>
<text x="422.2" y="265.2" class="tl" text-anchor="middle">1250</text>
<text x="492.4" y="265.2" class="tl" text-anchor="middle">1300</text>
<text x="562.6" y="265.2" class="tl" text-anchor="middle">1350</text>
<text x="632.8" y="265.2" class="tl" text-anchor="middle">1400</text>
<line x1="63.9" y1="39.80" x2="90.7" y2="39.80" stroke="#515151" stroke-width="1.5"/>
<text x="93.6" y="43.90" class="lg">24 mg/L</text>
<line x1="63.9" y1="54.25" x2="90.7" y2="54.25" stroke="#F14040" stroke-width="1.5"/>
<text x="93.6" y="58.35" class="lg">101 mg/L</text>
<line x1="63.9" y1="68.70" x2="90.7" y2="68.70" stroke="#1A6FDF" stroke-width="1.5"/>
<text x="93.6" y="72.80" class="lg">241 mg/L</text>
<line x1="63.9" y1="83.15" x2="90.7" y2="83.15" stroke="#37AD6B" stroke-width="1.5"/>
<text x="93.6" y="87.25" class="lg">113 mg/L</text>
<line x1="63.9" y1="97.60" x2="90.7" y2="97.60" stroke="#B177DE" stroke-width="1.5"/>
<text x="93.6" y="101.70" class="lg">160 mg/L</text>
<line x1="396.1" y1="39.10" x2="422.9" y2="39.10" stroke="#515151" stroke-width="1.5"/>
<text x="425.7" y="43.20" class="lg">48 mg/L</text>
<line x1="396.1" y1="53.40" x2="422.9" y2="53.40" stroke="#F14040" stroke-width="1.5"/>
<text x="425.7" y="57.50" class="lg">181 mg/L</text>
<line x1="396.1" y1="67.70" x2="422.9" y2="67.70" stroke="#1A6FDF" stroke-width="1.5"/>
<text x="425.7" y="71.80" class="lg">165 mg/L</text>
<line x1="396.1" y1="82.00" x2="422.9" y2="82.00" stroke="#37AD6B" stroke-width="1.5"/>
<text x="425.7" y="86.10" class="lg">156 mg/L</text>
<line x1="396.1" y1="96.30" x2="422.9" y2="96.30" stroke="#B177DE" stroke-width="1.5"/>
<text x="425.7" y="100.40" class="lg">180 mg/L</text>
<text transform="translate(278.4,49.6) scale(1.05,1)" class="an" text-anchor="middle">Diagnosed</text>
<text transform="translate(278.9,65.9) scale(1.05,1)" class="an" text-anchor="middle">urosepsis</text>
<text transform="translate(613.5,49.6) scale(1.05,1)" class="an" text-anchor="middle">Diagnosed</text>
<text transform="translate(614.5,66.5) scale(1.05,1)" class="an" text-anchor="middle">UTI</text>
<text x="186.2" y="13.3" class="ti" text-anchor="middle">a.</text>
<text x="516.5" y="13.1" class="ti" text-anchor="middle">b.</text>
<text x="192.2" y="283" class="at" text-anchor="middle">Wavelength [nm]</text>
<text x="528" y="283" class="at" text-anchor="middle">Wavelength [nm]</text>
<text transform="translate(12.45,225.0) rotate(-90)" class="at">Optical signal power density</text>
<text transform="translate(11.85,46.6) rotate(-90) scale(0.97,0.92)" class="at" text-anchor="end" style="stroke-width:0.45px">[nW]</text>
<text transform="translate(348.35,225.0) rotate(-90)" class="at">Optical signal power density</text>
<text transform="translate(347.75,46.6) rotate(-90) scale(0.97,0.92)" class="at" text-anchor="end" style="stroke-width:0.45px">[nW]</text>
</svg>
</body></html>
